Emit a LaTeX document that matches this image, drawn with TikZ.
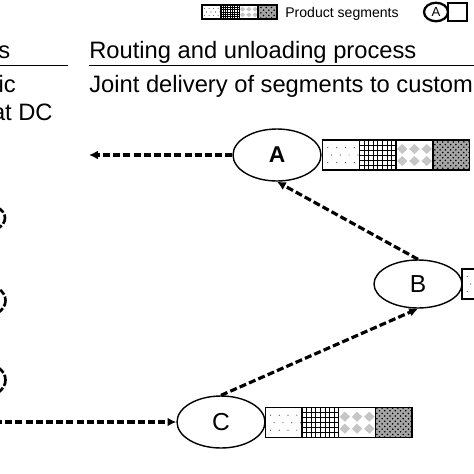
\documentclass[tikz,border=0pt]{standalone}
\usepackage{fontspec}
\setmainfont{Liberation Sans}
\usetikzlibrary{shapes.geometric,arrows.meta,patterns}

\tikzset{
  stop/.style={draw, ellipse, line width=0.8pt, minimum width=1.76cm, minimum height=1.04cm,
    inner sep=0pt, font=\fontsize{14}{16}\selectfont},
  route/.style={line width=1.8pt, dash pattern=on 4pt off 1.8pt, -{Latex[length=5pt,width=5pt]}},
  heading/.style={anchor=base west, inner sep=0pt, font=\fontsize{13.5}{16}\selectfont},
}

% PRODUCT SEGMENTS: #1,#2 top left corner, #3 cell width, #4 cell height
\newcommand{\segstrip}[4]{%
  % dots
  \foreach \i in {0,...,3} \foreach \j in {0,1,2}
    \fill[black!70] ({#1+#3*(0.14+0.24*\i+0.1*mod(\j,2))},{#2+#4*(0.25+0.25*\j)}) circle (0.35pt);
  % grid
  \foreach \k in {1,...,7}
    \draw[line width=0.4pt] ({#1+#3*(1+\k/8)},#2) -- ({#1+#3*(1+\k/8)},{#2+#4});
  \foreach \k in {1,...,5}
    \draw[line width=0.4pt] ({#1+#3},{#2+#4*\k/6}) -- ({#1+2*#3},{#2+#4*\k/6});
  % diamonds
  \foreach \i in {0,1,2} \foreach \j in {0,1}
    \fill[gray!45] ({#1+#3*(2+(2*\i+1)/6)},{#2+#4*(0.3+0.4*\j)})
      ++({-#3/7},0) -- ++({#3/7},{-#4/6}) -- ++({#3/7},{#4/6}) -- ++({-#3/7},{#4/6}) -- cycle;
  % dense cell
  \fill[black!35] ({#1+3*#3},#2) rectangle ({#1+4*#3},{#2+#4});
  \fill[pattern=crosshatch dots, pattern color=black] ({#1+3*#3},#2) rectangle ({#1+4*#3},{#2+#4});
  % frames
  \foreach \k in {0,...,3}
    \draw[line width=0.9pt] ({#1+\k*#3},#2) rectangle ({#1+(\k+1)*#3},{#2+#4});
}

\begin{document}
\begin{tikzpicture}[x=0.02cm, y=-0.02cm]
    \clip (0,0) rectangle (474,474);

    % LEGEND
    \segstrip{202}{5}{18.75}{14}
    \node[anchor=base west, inner sep=0pt, font=\fontsize{8}{10}\selectfont] (legtext) at (285,17) {Product segments};
    \node[draw, ellipse, line width=1.3pt, minimum width=0.48cm, minimum height=0.37cm, inner sep=0pt,
      font=\fontsize{7.5}{8}\selectfont] (legA) at (436,12) {A};
    \draw[line width=0.6pt] (448,3) rectangle (467,21);

    % HEADINGS
    \node[heading, anchor=base east] (tail1) at (10.5,58) {s};
    \draw[line width=0.8pt] (0,65.5) -- (68,65.5);
    \node[heading] (routing) at (89,58) {Routing and unloading process};
    \draw[line width=0.8pt] (89,65.5) -- (474,65.5);
    \node[heading] (joint) at (89,92) {Joint delivery of segments to custom};
    \node[heading, anchor=base east] (tail2) at (16,92) {ic};
    \node[heading, anchor=base east] (tail3) at (53,120) {at DC};

    % CUSTOMERS
    \node[stop, font=\fontsize{13}{15}\selectfont\bfseries] (A) at (277,155) {A};
    \node[stop, minimum height=0.96cm] (B) at (418,284) {B};
    \node[stop] (C) at (221,422) {C};

    % SEGMENTS
    \segstrip{322.7}{140}{36.7}{30}
    \segstrip{462}{269}{36.7}{30}
    \segstrip{265.3}{407.7}{36.7}{30}

    % LEFT PANEL (cut off)
    \draw[dash pattern=on 3.5pt off 1.2pt, line width=1.5pt] (-20,218) ellipse (25 and 15);
    \draw[dash pattern=on 3.5pt off 1.2pt, line width=1.5pt] (-20,300.5) ellipse (25.5 and 17.5);
    \draw[dash pattern=on 3.5pt off 1.2pt, line width=1.5pt] (-20,380) ellipse (25.5 and 18);

    % ROUTE
    \coordinate (depot) at (89,155);
    \coordinate (inflow) at (-5,422);
    \draw[route] (A.west) -- (depot);
    \draw[route] (B.north) -- (A.south);
    \draw[route] (C.north) -- (B.south);
    \draw[route] (inflow) -- (C.west);

\end{tikzpicture}
\end{document}
